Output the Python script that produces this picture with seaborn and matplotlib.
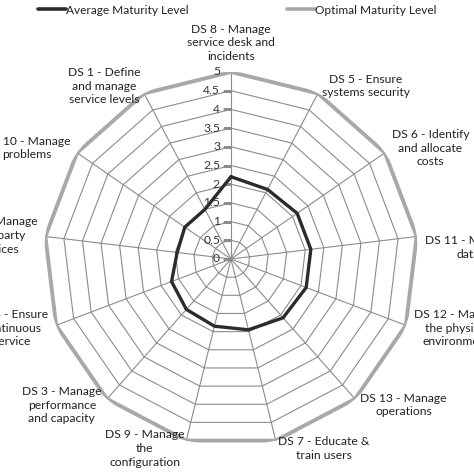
import numpy as np
import pandas as pd
import matplotlib
matplotlib.use("Agg")
import matplotlib.pyplot as plt
import matplotlib.transforms as mtransforms
from matplotlib.lines import Line2D
import seaborn as sns

# ---- data ----
categories = [
    "DS 8 - Manage\nservice desk and\nincidents",
    "DS 5 - Ensure\nsystems security",
    "DS 6 - Identify\nand allocate\ncosts",
    "DS 11 - Manage\ndata",
    "DS 12 - Manage\nthe physical\nenvironment",
    "DS 13 - Manage\noperations",
    "DS 7 - Educate &\ntrain users",
    "DS 9 - Manage\nthe\nconfiguration",
    "DS 3 - Manage\nperformance\nand capacity",
    "DS 4 - Ensure\ncontinuous\nservice",
    "DS 2 - Manage\nthird party\nservices",
    "DS 10 - Manage\nproblems",
    "DS 1 - Define\nand manage\nservice levels",
]
average_level = [2.2, 2.1, 2.15, 2.15, 2.15, 2.1, 1.95, 1.85, 1.8, 1.7, 1.45, 1.5, 1.5]
optimal_level = [5, 5, 5, 5, 5, 5, 5, 5, 5, 5, 5, 5, 5]
series_names = ["Average Maturity Level", "Optimal Maturity Level"]
radial_ticks = [0, 0.5, 1, 1.5, 2, 2.5, 3, 3.5, 4, 4.5, 5]
radial_labels = ["0", "0.5", "1", "1.5", "2", "2.5", "3", "3.5", "4", "4.5", "5"]

# ---- build table ----
n = len(categories)
theta = np.linspace(0, 2 * np.pi, n, endpoint=False)
theta_closed = np.append(theta, 2 * np.pi)
rows = []
for name, vals in zip(series_names, [average_level, optimal_level]):
    vc = list(vals) + [vals[0]]
    for t, v in zip(theta_closed, vc):
        rows.append({"theta": t, "value": v, "series": name})
df = pd.DataFrame(rows)

sns.set_theme(style="white")
plt.rcParams["font.family"] = ["Lato", "DejaVu Sans"]

fig = plt.figure(figsize=(4.74, 4.74), dpi=100)
ax = fig.add_axes([44 / 474, 28 / 474, 374 / 474, 374 / 474], projection="polar")
ax.set_theta_zero_location("N")
ax.set_theta_direction(-1)
ax.set_ylim(0, 5)
ax.grid(False)
ax.spines["polar"].set_visible(False)
ax.set_xticks([])
ax.set_yticks([])
ax.patch.set_alpha(0)

grid_col = "#8c8c8c"
# polygon rings
for lv in radial_ticks[1:]:
    ax.plot(theta_closed, [lv] * (n + 1), color=grid_col, lw=0.8, zorder=1)
# spokes
for t in theta:
    ax.plot([t, t], [0, 5], color=grid_col, lw=0.8, zorder=1)

palette = {"Average Maturity Level": "#2b2b2b", "Optimal Maturity Level": "#a8a8a8"}
sns.lineplot(data=df[df.series == "Optimal Maturity Level"], x="theta", y="value",
             color=palette["Optimal Maturity Level"], sort=False, lw=2.8,
             ax=ax, legend=False, zorder=3, estimator=None)
sns.lineplot(data=df[df.series == "Average Maturity Level"], x="theta", y="value",
             color=palette["Average Maturity Level"], sort=False, lw=2.4,
             ax=ax, legend=False, zorder=4, estimator=None)
ax.set_xlabel("")
ax.set_ylabel("")
ax.set_ylim(0, 5)

# radial tick marks and labels on the vertical axis
ax.plot([0] * len(radial_ticks), radial_ticks, ls="none", marker=0, markersize=6,
        color=grid_col, zorder=2)
tr = mtransforms.offset_copy(ax.transData, fig=fig, x=-11, y=0, units="dots")
for r, lab in zip(radial_ticks, radial_labels):
    ax.text(0, r, lab, transform=tr, ha="right", va="center", fontsize=8.7,
            color="#333333", zorder=5)

# category labels
for i, (t, lab) in enumerate(zip(theta, categories)):
    deg = np.degrees(t)
    if i == 0:
        ha, va, rr = "center", "bottom", 5.27
    elif deg < 180:
        ha, va, rr = "left", "center", 5.22
    else:
        ha, va, rr = "right", "center", 5.22
    if i == 3:
        va = "top"
    ax.text(t, rr, lab, ha=ha, va=va, fontsize=8.7, color="#222222",
            linespacing=1.3, multialignment="center", clip_on=False)

handles = [Line2D([], [], color=palette[s], lw=2.6) for s in series_names]
fig.legend(handles, series_names, loc="center", bbox_to_anchor=(237 / 474, 1 - 10 / 474),
           ncol=2, frameon=False, fontsize=8.6, handlelength=2.35, handletextpad=0.0,
           columnspacing=8.2, labelcolor="#222222")

fig.savefig("out.png", dpi=100, facecolor="white")
